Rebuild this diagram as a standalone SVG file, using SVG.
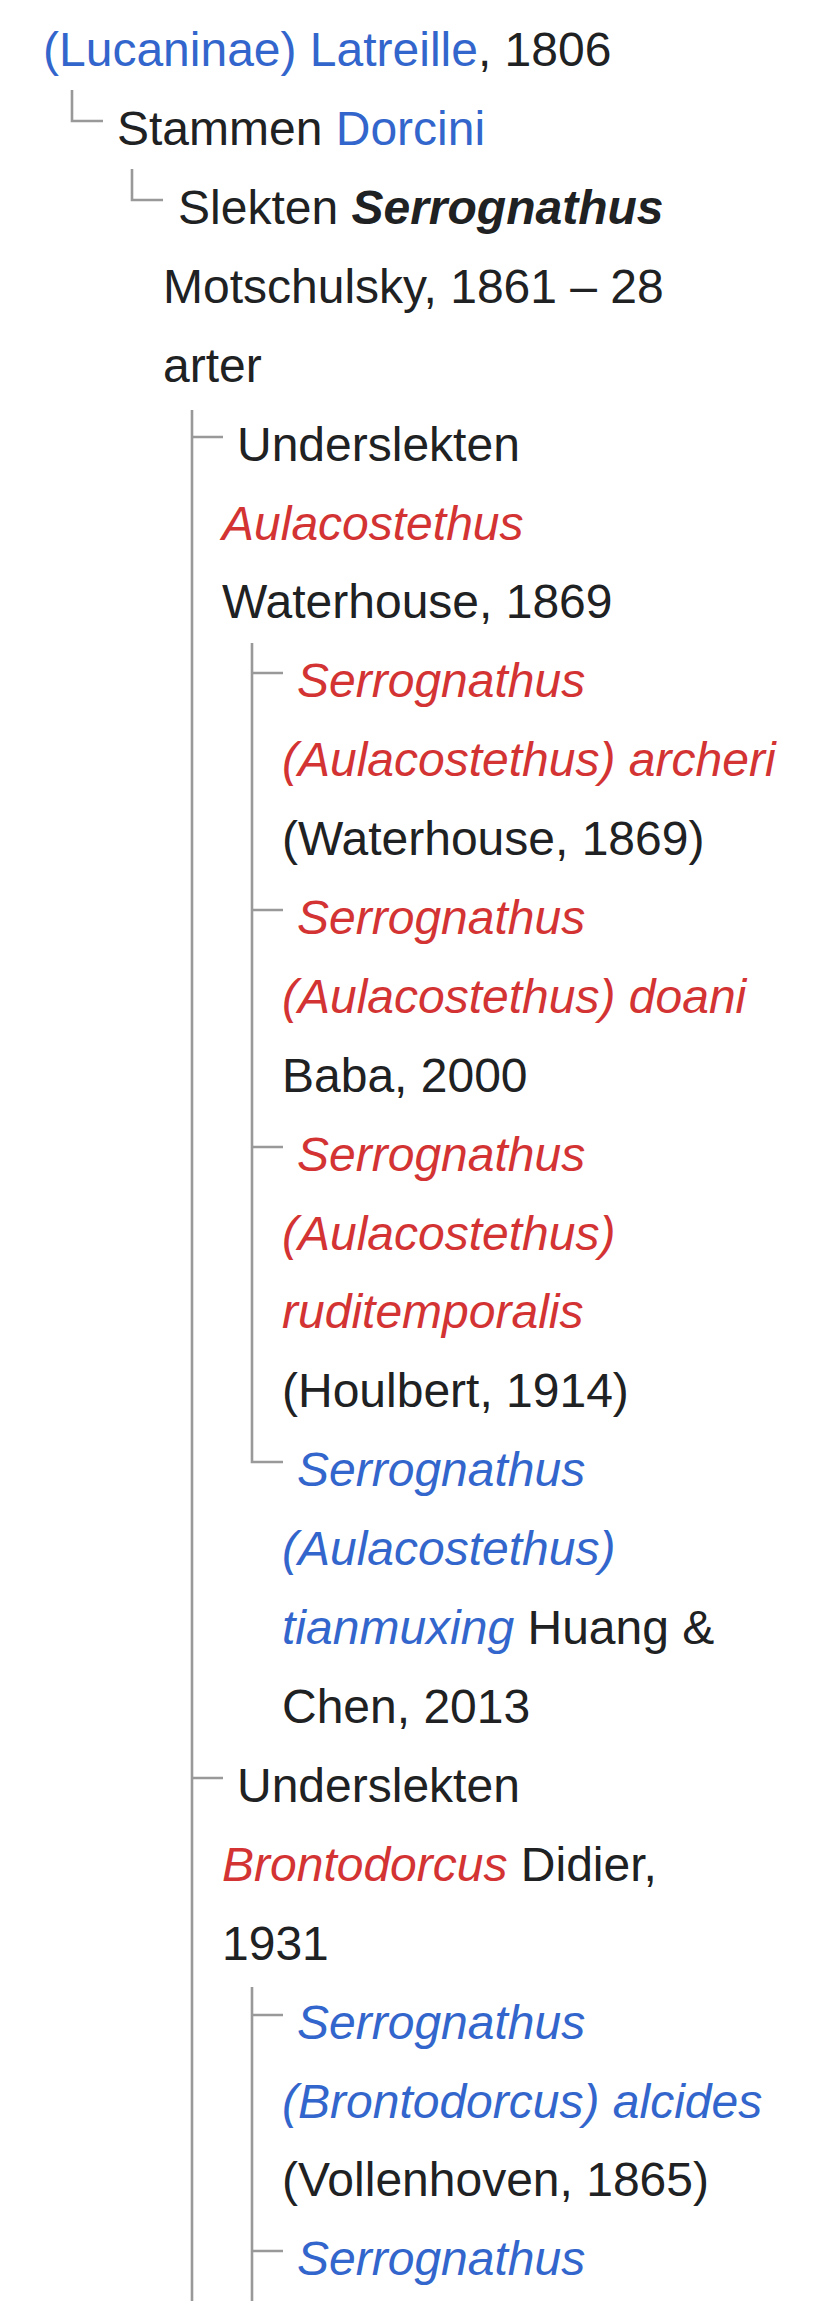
<svg xmlns="http://www.w3.org/2000/svg" width="833" height="2301" viewBox="0 0 833 2301">
<style>
text{font-family:"Liberation Sans",Arial,sans-serif;font-size:48px;fill:#202122}
.b{fill:#3366cc}
.r{fill:#d33333}
.i{font-style:italic}
.bi{font-style:italic;font-weight:bold}
.c{stroke:#999999;stroke-width:2.6;fill:none}
</style>
<rect width="833" height="2301" fill="#ffffff"/>
<g id="connectors">
<path class="c" d="M72 90V121H103"/>
<path class="c" d="M132 169V200H163"/>
<path class="c" d="M192 410V2301M192 437H223M192 1778H223"/>
<path class="c" d="M252 643V1462H283M252 673H283M252 910H283M252 1147H283"/>
<path class="c" d="M252 1987V2301M252 2015H283M252 2251H283"/>
</g>
<g id="lucaninae"><text x="43" y="66"><tspan class="b">(Lucaninae) Latreille</tspan>, 1806</text></g>
<g id="dorcini"><text x="117" y="145">Stammen <tspan class="b">Dorcini</tspan></text></g>
<g id="serrognathus">
<text x="178" y="224">Slekten <tspan class="bi">Serrognathus</tspan></text>
<text x="163" y="303">Motschulsky, 1861 – 28</text>
<text x="163" y="382">arter</text>
</g>
<g id="aulacostethus">
<text x="237" y="461">Underslekten</text>
<text x="222" y="540" class="r i">Aulacostethus</text>
<text x="222" y="618">Waterhouse, 1869</text>
</g>
<g id="archeri">
<text x="297" y="697" class="r i">Serrognathus</text>
<text x="282" y="776" class="r i">(Aulacostethus) archeri</text>
<text x="282" y="855">(Waterhouse, 1869)</text>
</g>
<g id="doani">
<text x="297" y="934" class="r i">Serrognathus</text>
<text x="282" y="1013" class="r i">(Aulacostethus) doani</text>
<text x="282" y="1092">Baba, 2000</text>
</g>
<g id="ruditemporalis">
<text x="297" y="1171" class="r i">Serrognathus</text>
<text x="282" y="1250" class="r i">(Aulacostethus)</text>
<text x="282" y="1328" class="r i">ruditemporalis</text>
<text x="282" y="1407">(Houlbert, 1914)</text>
</g>
<g id="tianmuxing">
<text x="297" y="1486" class="b i">Serrognathus</text>
<text x="282" y="1565" class="b i">(Aulacostethus)</text>
<text x="282" y="1644"><tspan class="b i">tianmuxing</tspan> Huang &amp;</text>
<text x="282" y="1723">Chen, 2013</text>
</g>
<g id="brontodorcus">
<text x="237" y="1802">Underslekten</text>
<text x="222" y="1881"><tspan class="r i">Brontodorcus</tspan> Didier,</text>
<text x="222" y="1960">1931</text>
</g>
<g id="alcides">
<text x="297" y="2039" class="b i">Serrognathus</text>
<text x="282" y="2118" class="b i">(Brontodorcus) alcides</text>
<text x="282" y="2196">(Vollenhoven, 1865)</text>
</g>
<g id="next-species">
<text x="297" y="2275" class="b i">Serrognathus</text>
</g>
</svg>
